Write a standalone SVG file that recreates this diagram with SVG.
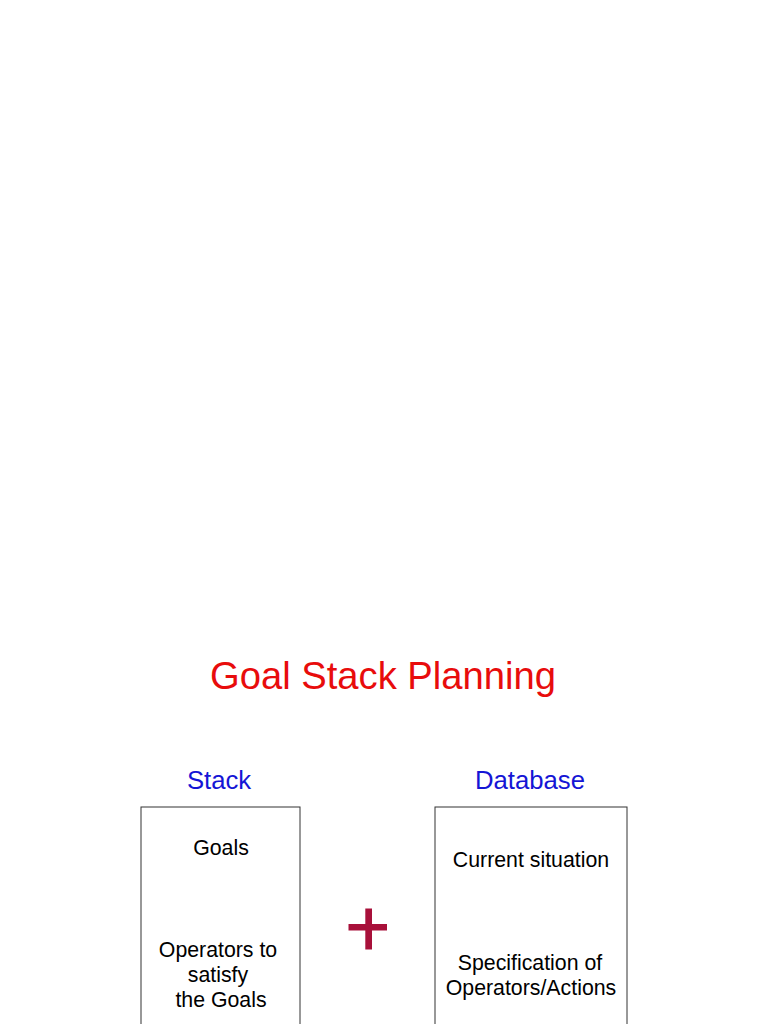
<svg xmlns="http://www.w3.org/2000/svg" width="768" height="1024" viewBox="0 0 768 1024">
<style>
.t{font-family:"Liberation Sans",Arial,sans-serif;text-anchor:middle}
.box{fill:#fff;stroke:#333;stroke-width:1}
.body{font-size:21.3px;fill:#000}
.hdr{font-size:25.7px;fill:#1515D5}
</style>
<rect width="768" height="1024" fill="#fff"/>
<text class="t" x="383" y="689" font-size="38.2" fill="#E80C0C">Goal Stack Planning</text>
<g id="stack">
<text class="t hdr" x="219" y="789">Stack</text>
<rect class="box" x="141" y="807" width="159" height="230"/>
<text class="t body" x="221" y="855">Goals</text>
<text class="t body" x="218" y="957">Operators to</text>
<text class="t body" x="218" y="982">satisfy</text>
<text class="t body" x="221" y="1007">the Goals</text>
</g>
<g id="plus">
<rect x="348.5" y="924" width="38.5" height="6.5" fill="#A8103A"/>
<rect x="365.3" y="908.5" width="6.7" height="41" fill="#A8103A"/>
</g>
<g id="database">
<text class="t hdr" x="530" y="789">Database</text>
<rect class="box" x="435" y="807" width="192" height="230"/>
<text class="t body" x="531" y="867">Current situation</text>
<text class="t body" x="530" y="970">Specification of</text>
<text class="t body" x="531" y="995">Operators/Actions</text>
</g>
<g id="connectors"/>
</svg>
